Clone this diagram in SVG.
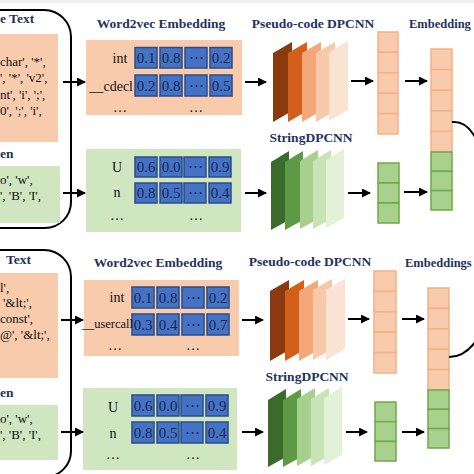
<svg xmlns="http://www.w3.org/2000/svg" width="474" height="474" viewBox="0 0 474 474">
<defs>
<marker id="ah" markerUnits="userSpaceOnUse" markerWidth="9" markerHeight="9" refX="8" refY="4.5" orient="auto"><path d="M0,0 L9,4.5 L0,9 z" fill="#000"/></marker>
<style>
.ti{font-family:"Liberation Serif","Times New Roman",serif;font-weight:bold;font-size:13.5px;fill:#1f3360;}
.tx{font-family:"Liberation Serif","Times New Roman",serif;font-size:13px;fill:#111;}
.lb{font-family:"Liberation Serif","Times New Roman",serif;font-size:14px;fill:#111;}
.cv{font-family:"Liberation Serif","Times New Roman",serif;font-size:15px;fill:#1a2850;text-anchor:middle;}
.cell{fill:#4472C4;stroke:#2B4C86;stroke-width:1.5;}
.ob{fill:#F8CBAD;}
.gb{fill:#CFE6C1;}
.oc{fill:#F8CBAD;stroke:#F4B183;stroke-width:1.5;}
.gc{fill:#A9D18E;stroke:#6FA84B;stroke-width:1.5;}
.panel{fill:none;stroke:#000;stroke-width:2;}
.ar{stroke:#000;stroke-width:2;fill:none;marker-end:url(#ah);}
.cur{stroke:#000;stroke-width:2;fill:none;}
</style>
</defs>
<rect x="0" y="0" width="474" height="474" fill="#fff"/>
<rect x="0" y="0" width="474" height="3" fill="#eeeeee"/>

<!-- TOP PANEL -->
<g id="top-input">
<path class="panel" d="M-10,10 H44 A27,27 0 0 1 71,37 V202 A26,26 0 0 1 45,228 H-10"/>
<text class="ti" x="0" y="23">e Text</text>
<rect class="ob" x="-2" y="34" width="60" height="108"/>
<text class="tx" x="0" y="66">char', '*',</text>
<text class="tx" x="0" y="82">', '*', 'v2',</text>
<text class="tx" x="0" y="99">nt', 'i', ';',</text>
<text class="tx" x="0" y="115">0', ';', 'i',</text>
<text class="ti" x="0" y="158">en</text>
<rect class="gb" x="-2" y="166" width="62" height="57"/>
<text class="tx" x="0" y="184">o', 'w',</text>
<text class="tx" x="0" y="200">', 'B', 'I',</text>
</g>

<g id="top-w2v-code">
<text class="ti" x="161" y="28" text-anchor="middle">Word2vec Embedding</text>
<rect class="ob" x="86" y="40" width="156" height="75"/>
<text class="lb" x="120" y="63" text-anchor="middle">int</text>
<text class="lb" x="133" y="91" text-anchor="end">__cdecl</text>
<rect class="cell" x="135" y="47.5" width="22" height="20.5"/><text class="cv" x="146" y="63">0.1</text>
<rect class="cell" x="160" y="47.5" width="22" height="20.5"/><text class="cv" x="171" y="63">0.8</text>
<rect class="cell" x="185" y="47.5" width="22" height="20.5"/><text class="cv" x="196" y="62">⋯</text>
<rect class="cell" x="210" y="47.5" width="22" height="20.5"/><text class="cv" x="221" y="63">0.2</text>
<rect class="cell" x="135" y="75" width="22" height="21"/><text class="cv" x="146" y="91">0.2</text>
<rect class="cell" x="160" y="75" width="22" height="21"/><text class="cv" x="171" y="91">0.8</text>
<rect class="cell" x="185" y="75" width="22" height="21"/><text class="cv" x="196" y="90">⋯</text>
<rect class="cell" x="210" y="75" width="22" height="21"/><text class="cv" x="221" y="91">0.5</text>
<text class="lb" x="120" y="112" text-anchor="middle">…</text>
<text class="lb" x="196" y="112" text-anchor="middle">…</text>
</g>

<g id="top-w2v-str">
<rect class="gb" x="86" y="149" width="155" height="83"/>
<text class="lb" x="117" y="172" text-anchor="middle">U</text>
<text class="lb" x="117" y="197" text-anchor="middle">n</text>
<rect class="cell" x="135" y="157" width="22" height="20"/><text class="cv" x="146" y="172">0.6</text>
<rect class="cell" x="160" y="157" width="22" height="20"/><text class="cv" x="171" y="172">0.0</text>
<rect class="cell" x="184" y="157" width="22" height="20"/><text class="cv" x="195" y="171">⋯</text>
<rect class="cell" x="209" y="157" width="22" height="20"/><text class="cv" x="220" y="172">0.9</text>
<rect class="cell" x="135" y="183" width="22" height="20"/><text class="cv" x="146" y="198">0.8</text>
<rect class="cell" x="160" y="183" width="22" height="20"/><text class="cv" x="171" y="198">0.5</text>
<rect class="cell" x="184" y="183" width="22" height="20"/><text class="cv" x="195" y="197">⋯</text>
<rect class="cell" x="209" y="183" width="22" height="20"/><text class="cv" x="220" y="198">0.4</text>
<text class="lb" x="117" y="220" text-anchor="middle">…</text>
<text class="lb" x="196" y="220" text-anchor="middle">…</text>
</g>

<g id="top-dpcnn-code">
<text class="ti" x="313" y="28" text-anchor="middle">Pseudo-code DPCNN</text>
<polygon fill="#8B3A0F" points="273,53 292,42 292,111 273,122"/>
<polygon fill="#D2601A" points="288,53 307,42 307,111 288,122"/>
<polygon fill="#F4A77A" points="302,53 321,42 321,111 302,122"/>
<polygon fill="#F8C9A9" points="316,53 335,42 335,111 316,122"/>
<polygon fill="#FBE3D3" points="329,52 348,41 348,110 329,121"/>
</g>

<g id="top-dpcnn-str">
<text class="ti" x="311" y="142" text-anchor="middle">StringDPCNN</text>
<polygon fill="#3B6B2A" points="271,162 289,151 289,220 271,230"/>
<polygon fill="#5E9A45" points="285,162 303,151 303,220 285,230"/>
<polygon fill="#A8D08D" points="300,161 318,150 318,219 300,229"/>
<polygon fill="#C8E3B6" points="313,161 331,150 331,219 313,229"/>
<polygon fill="#E3F1D8" points="326,160 344,149 344,218 326,228"/>
</g>

<g id="top-vec-code">
<rect class="oc" x="378" y="32" width="20" height="20.4"/>
<rect class="oc" x="378" y="52.4" width="20" height="20.4"/>
<rect class="oc" x="378" y="72.8" width="20" height="20.4"/>
<rect class="oc" x="378" y="93.2" width="20" height="20.4"/>
<rect class="oc" x="378" y="113.6" width="20" height="20.4"/>
</g>
<g id="top-vec-str">
<rect class="gc" x="378" y="163" width="21" height="20"/>
<rect class="gc" x="378" y="183" width="21" height="20"/>
<rect class="gc" x="378" y="203" width="21" height="20"/>
</g>
<g id="top-embedding">
<text class="ti" x="409" y="28" style="font-size:12.5px">Embedding</text>
<rect class="oc" x="431" y="49" width="21" height="20.6"/>
<rect class="oc" x="431" y="69.6" width="21" height="20.6"/>
<rect class="oc" x="431" y="90.2" width="21" height="20.6"/>
<rect class="oc" x="431" y="110.8" width="21" height="20.6"/>
<rect class="oc" x="431" y="131.4" width="21" height="20.6"/>
<rect class="gc" x="431" y="152" width="21" height="19.3"/>
<rect class="gc" x="431" y="171.3" width="21" height="19.3"/>
<rect class="gc" x="431" y="190.6" width="21" height="19.4"/>
</g>

<!-- BOTTOM PANEL -->
<g id="bottom-input">
<path class="panel" d="M-10,250 H44 A27,27 0 0 1 71,277 V451 A26,26 0 0 1 45,477"/>
<text class="ti" x="6" y="264">Text</text>
<rect class="ob" x="-2" y="273" width="60" height="105"/>
<text class="tx" x="0" y="292">l',</text>
<text class="tx" x="3" y="307">'&amp;lt;',</text>
<text class="tx" x="0" y="323">const',</text>
<text class="tx" x="0" y="339">@', '&amp;lt;',</text>
<text class="ti" x="0" y="397">en</text>
<rect class="gb" x="-2" y="405" width="60" height="55"/>
<text class="tx" x="0" y="423">o', 'w',</text>
<text class="tx" x="0" y="439">', 'B', 'I',</text>
</g>

<g id="bottom-w2v-code">
<text class="ti" x="158" y="267" text-anchor="middle">Word2vec Embedding</text>
<rect class="ob" x="84" y="280" width="155" height="76"/>
<text class="lb" x="117" y="302" text-anchor="middle">int</text>
<rect class="cell" x="132" y="287" width="22" height="21"/><text class="cv" x="143" y="303">0.1</text>
<rect class="cell" x="157" y="287" width="22" height="21"/><text class="cv" x="168" y="303">0.8</text>
<rect class="cell" x="182" y="287" width="22" height="21"/><text class="cv" x="193" y="302">⋯</text>
<rect class="cell" x="207" y="287" width="22" height="21"/><text class="cv" x="218" y="303">0.2</text>
<rect class="cell" x="132" y="314" width="22" height="21"/><text class="cv" x="143" y="330">0.3</text>
<rect class="cell" x="157" y="314" width="22" height="21"/><text class="cv" x="168" y="330">0.4</text>
<rect class="cell" x="182" y="314" width="22" height="21"/><text class="cv" x="193" y="329">⋯</text>
<rect class="cell" x="207" y="314" width="22" height="21"/><text class="cv" x="218" y="330">0.7</text>
<text class="lb" x="133" y="328" text-anchor="end" style="font-size:12.5px">__usercall</text>
<text class="lb" x="115" y="350" text-anchor="middle">…</text>
<text class="lb" x="193" y="350" text-anchor="middle">…</text>
</g>

<g id="bottom-w2v-str">
<rect class="gb" x="83" y="388" width="154" height="82"/>
<text class="lb" x="113" y="412" text-anchor="middle">U</text>
<text class="lb" x="113" y="438" text-anchor="middle">n</text>
<rect class="cell" x="132" y="395" width="22" height="21"/><text class="cv" x="143" y="411">0.6</text>
<rect class="cell" x="157" y="395" width="22" height="21"/><text class="cv" x="168" y="411">0.0</text>
<rect class="cell" x="181" y="395" width="22" height="21"/><text class="cv" x="192" y="410">⋯</text>
<rect class="cell" x="206" y="395" width="22" height="21"/><text class="cv" x="217" y="411">0.9</text>
<rect class="cell" x="132" y="422" width="22" height="21"/><text class="cv" x="143" y="438">0.8</text>
<rect class="cell" x="157" y="422" width="22" height="21"/><text class="cv" x="168" y="438">0.5</text>
<rect class="cell" x="181" y="422" width="22" height="21"/><text class="cv" x="192" y="437">⋯</text>
<rect class="cell" x="206" y="422" width="22" height="21"/><text class="cv" x="217" y="438">0.4</text>
<text class="lb" x="113" y="459" text-anchor="middle">…</text>
<text class="lb" x="193" y="459" text-anchor="middle">…</text>
</g>

<g id="bottom-dpcnn-code">
<text class="ti" x="310" y="266" text-anchor="middle">Pseudo-code DPCNN</text>
<polygon fill="#8B3A0F" points="270,291 289,280 289,350 270,361"/>
<polygon fill="#D2601A" points="285,291 304,280 304,350 285,361"/>
<polygon fill="#F4A77A" points="299,291 318,280 318,350 299,361"/>
<polygon fill="#F8C9A9" points="313,290 332,279 332,349 313,360"/>
<polygon fill="#FBE3D3" points="326,290 345,279 345,349 326,360"/>
</g>

<g id="bottom-dpcnn-str">
<text class="ti" x="307" y="381" text-anchor="middle">StringDPCNN</text>
<polygon fill="#3B6B2A" points="268,400 286,389 286,457 268,467"/>
<polygon fill="#5E9A45" points="283,400 301,389 301,457 283,467"/>
<polygon fill="#A8D08D" points="297,399 315,388 315,456 297,466"/>
<polygon fill="#C8E3B6" points="311,399 329,388 329,456 311,466"/>
<polygon fill="#E3F1D8" points="324,398 342,387 342,455 324,465"/>
</g>

<g id="bottom-vec-code">
<rect class="oc" x="374" y="271" width="22" height="20.4"/>
<rect class="oc" x="374" y="291.4" width="22" height="20.4"/>
<rect class="oc" x="374" y="311.8" width="22" height="20.4"/>
<rect class="oc" x="374" y="332.2" width="22" height="20.4"/>
<rect class="oc" x="374" y="352.6" width="22" height="20.4"/>
</g>
<g id="bottom-vec-str">
<rect class="gc" x="375" y="402" width="21" height="19.7"/>
<rect class="gc" x="375" y="421.7" width="21" height="19.7"/>
<rect class="gc" x="375" y="441.4" width="21" height="19.6"/>
</g>
<g id="bottom-embedding">
<text class="ti" x="405" y="267" style="font-size:12.5px">Embeddings</text>
<rect class="oc" x="428" y="288" width="21" height="20.4"/>
<rect class="oc" x="428" y="308.4" width="21" height="20.4"/>
<rect class="oc" x="428" y="328.8" width="21" height="20.4"/>
<rect class="oc" x="428" y="349.2" width="21" height="20.4"/>
<rect class="oc" x="428" y="369.6" width="21" height="20.4"/>
<rect class="gc" x="428" y="390" width="21" height="19.3"/>
<rect class="gc" x="428" y="409.3" width="21" height="19.3"/>
<rect class="gc" x="428" y="428.6" width="21" height="19.4"/>
</g>

<g id="connectors">
<line class="ar" x1="63" y1="82" x2="85" y2="82"/>
<line class="ar" x1="63" y1="193" x2="85" y2="193"/>
<line class="ar" x1="245" y1="82" x2="266" y2="82"/>
<line class="ar" x1="245" y1="193" x2="266" y2="193"/>
<line class="ar" x1="351" y1="81" x2="373" y2="81"/>
<line class="ar" x1="405" y1="81" x2="427" y2="81"/>
<line class="ar" x1="348" y1="193" x2="370" y2="193"/>
<line class="ar" x1="404" y1="192" x2="427" y2="192"/>
<path class="cur" d="M452,122 C462,121 470,127 476,139"/>
<line class="ar" x1="61" y1="320" x2="83" y2="320"/>
<line class="ar" x1="61" y1="432" x2="83" y2="432"/>
<line class="ar" x1="242" y1="320" x2="263" y2="320"/>
<line class="ar" x1="242" y1="432" x2="263" y2="432"/>
<line class="ar" x1="348" y1="319" x2="369" y2="319"/>
<line class="ar" x1="402" y1="319" x2="424" y2="319"/>
<line class="ar" x1="346" y1="432" x2="367" y2="432"/>
<line class="ar" x1="402" y1="432" x2="424" y2="432"/>
<path class="cur" d="M449,357 C459,357 468,352 476,341"/>
</g>
</svg>
